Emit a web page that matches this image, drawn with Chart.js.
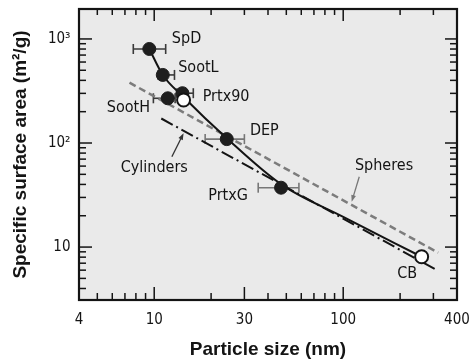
<!DOCTYPE html>
<html><head><meta charset="utf-8">
<script src="https://cdn.jsdelivr.net/npm/chart.js@4.4.1/dist/chart.umd.min.js"></script>
<style>html,body{margin:0;padding:0;background:#fff}#wrap{width:474px;height:363px;position:relative}</style>
</head><body><div id="wrap"><canvas id="c"></canvas></div>
<script>
// ---- data ----
const sampleNames = ['SpD', 'SootL', 'SootH', 'Prtx90', 'DEP', 'PrtxG'];
const sampleSize  = [9.42, 11.1, 11.8, 14.1, 24.2, 46.9];      // nm
const sampleArea  = [801, 451, 269, 301, 109, 37.2];            // m2/g
const sizeLow     = [7.75, 10.5, 9.9, 13.2, 18.6, 35.5];
const sizeHigh    = [11.5, 12.8, 12.9, 16.1, 30.0, 58.3];
const openNames   = ['Prtx90', 'CB'];
const openSize    = [14.3, 260];
const openArea    = [259, 8.07];
const fitSize     = [9.42, 11.1, 14.2, 24.2, 47, 100, 260];
const fitArea     = [801, 451, 280, 111, 40, 19.5, 8.07];
const sphereSize  = [7.4, 318];
const sphereArea  = [380, 8.84];
const cylSize     = [10.9, 306];
const cylArea     = [172, 6.14];
const labelText   = ['SpD', 'SootL', 'Prtx90', 'SootH', 'DEP', 'Cylinders', 'Spheres', 'PrtxG', 'CB'];
const labelSize   = [12.4, 13.4, 18.05, 9.5, 32.1, 6.65, 115.4, 31.3, 193];
const labelArea   = [993, 523, 279, 220, 131, 57.2, 60.1, 30.9, 5.5];
const labelAlign  = ['left', 'left', 'left', 'right', 'left', 'left', 'left', 'right', 'left'];
const arrowNames  = ['Cylinders', 'Spheres'];
const arrowFromX  = [12.4, 121.6];
const arrowFromY  = [73.8, 47.4];
const arrowToX    = [14.3, 110.9];
const arrowToY    = [124, 27.3];
const xTickValues = [4, 10, 30, 100, 400];
const xTickLabels = ['4', '10', '30', '100', '400'];
const yTickValues = [10, 100, 1000];
const yTickLabels = ['10', '10\u00B2', '10\u00B3'];
const xMinorTicks = [5, 6, 7, 8, 9, 20, 40, 50, 60, 70, 80, 90, 200, 300];
const xTopMajor   = [10, 100];
const xTopMinor   = [5, 6, 7, 8, 9, 20, 30, 40, 50, 60, 70, 80, 90, 200, 300];
const yMinorTicks = [4, 5, 6, 7, 8, 9, 20, 30, 40, 50, 60, 70, 80, 90, 200, 300, 400, 500, 600, 700, 800, 900];

// ---- styles ----
const FONT = '"DejaVu Sans Condensed","DejaVu Sans",sans-serif';
const TITLE_FONT = '"Liberation Sans",Arial,sans-serif';
const errColors = ['#3a3a3a', '#3a3a3a', '#3a3a3a', '#3a3a3a', '#777', '#777'];
const arrowColors = ['#333', '#777'];
const INK = '#141414';

const pts = (xs, ys) => xs.map((v, i) => ({x: v, y: ys[i]}));

function seg(ctx, x0, y0, x1, y1) {
  ctx.beginPath();
  ctx.moveTo(x0, y0);
  ctx.lineTo(x1, y1);
  ctx.stroke();
}
function noPad(s) { s.paddingTop = 0; s.paddingBottom = 0; s.paddingLeft = 0; s.paddingRight = 0; }

const plotPlugin = {
  id: 'plotDecor',
  beforeDraw(chart) {
    const {ctx, chartArea: a} = chart;
    ctx.save();
    ctx.fillStyle = '#eaeaea';
    ctx.fillRect(a.left, a.top, a.right - a.left, a.bottom - a.top);
    ctx.restore();
  },
  beforeDatasetsDraw(chart) {
    const {ctx} = chart;
    const xs = chart.scales.x, ys = chart.scales.y;
    ctx.save();
    ctx.setLineDash([]);
    ctx.lineWidth = 1.6;
    for (let i = 0; i < sampleSize.length; i++) {
      const yy = ys.getPixelForValue(sampleArea[i]);
      const x0 = xs.getPixelForValue(sizeLow[i]);
      const x1 = xs.getPixelForValue(sizeHigh[i]);
      ctx.strokeStyle = errColors[i];
      seg(ctx, x0, yy, x1, yy);
      seg(ctx, x0, yy - 5, x0, yy + 5);
      seg(ctx, x1, yy - 5, x1, yy + 5);
    }
    ctx.restore();
  },
  afterDatasetsDraw(chart) {
    const {ctx} = chart;
    const a = chart.chartArea;
    const xs = chart.scales.x, ys = chart.scales.y;
    ctx.save();
    ctx.setLineDash([]);
    // arrows
    for (let i = 0; i < arrowNames.length; i++) {
      const x0 = xs.getPixelForValue(arrowFromX[i]), y0 = ys.getPixelForValue(arrowFromY[i]);
      const x1 = xs.getPixelForValue(arrowToX[i]), y1 = ys.getPixelForValue(arrowToY[i]);
      const ang = Math.atan2(y1 - y0, x1 - x0);
      const hl = 7;
      ctx.strokeStyle = arrowColors[i]; ctx.fillStyle = arrowColors[i]; ctx.lineWidth = 1.3;
      seg(ctx, x0, y0, x1 - Math.cos(ang) * hl * 0.8, y1 - Math.sin(ang) * hl * 0.8);
      ctx.beginPath();
      ctx.moveTo(x1, y1);
      ctx.lineTo(x1 - hl * Math.cos(ang - 0.35), y1 - hl * Math.sin(ang - 0.35));
      ctx.lineTo(x1 - hl * Math.cos(ang + 0.35), y1 - hl * Math.sin(ang + 0.35));
      ctx.closePath(); ctx.fill();
    }
    // labels
    ctx.fillStyle = INK;
    ctx.font = '16px ' + FONT;
    ctx.textBaseline = 'middle';
    for (let i = 0; i < labelText.length; i++) {
      ctx.textAlign = labelAlign[i];
      ctx.fillText(labelText[i], xs.getPixelForValue(labelSize[i]), ys.getPixelForValue(labelArea[i]));
    }
    // inward ticks on all four sides
    ctx.strokeStyle = INK;
    ctx.lineWidth = 1.5;
    for (const v of xMinorTicks) { const p = xs.getPixelForValue(v); seg(ctx, p, a.bottom, p, a.bottom - 7); }
    for (const v of xTickValues) { const p = xs.getPixelForValue(v); seg(ctx, p, a.bottom, p, a.bottom - 13); }
    for (const v of xTopMinor) { const p = xs.getPixelForValue(v); seg(ctx, p, a.top, p, a.top + 6); }
    for (const v of xTopMajor) { const p = xs.getPixelForValue(v); seg(ctx, p, a.top, p, a.top + 12); }
    for (const v of yMinorTicks) {
      const p = ys.getPixelForValue(v);
      seg(ctx, a.left, p, a.left + 7, p);
      seg(ctx, a.right, p, a.right - 7, p);
    }
    for (const v of yTickValues) {
      const p = ys.getPixelForValue(v);
      seg(ctx, a.left, p, a.left + 13, p);
      seg(ctx, a.right, p, a.right - 12, p);
    }
    // frame
    ctx.lineWidth = 2.2;
    ctx.strokeRect(a.left, a.top, a.right - a.left, a.bottom - a.top);
    ctx.restore();
  }
};

new Chart(document.getElementById('c'), {
  type: 'scatter',
  data: {
    datasets: [
      {label: 'open', data: pts(openSize, openArea), pointRadius: 6.5, pointBackgroundColor: '#fff',
       pointBorderColor: INK, pointBorderWidth: 2, showLine: false},
      {label: 'samples', data: pts(sampleSize, sampleArea), pointRadius: 6.5, pointBackgroundColor: '#1e1e1e',
       pointBorderColor: '#1e1e1e', pointBorderWidth: 1, showLine: false},
      {label: 'fit', data: pts(fitSize, fitArea), showLine: true, borderColor: INK, borderWidth: 2,
       cubicInterpolationMode: 'monotone', pointRadius: 0},
      {label: 'Cylinders', data: pts(cylSize, cylArea), showLine: true, borderColor: INK, borderWidth: 2,
       borderDash: [13, 4, 2, 4], pointRadius: 0},
      {label: 'Spheres', data: pts(sphereSize, sphereArea), showLine: true, borderColor: '#7c7c7c', borderWidth: 2.5,
       borderDash: [7, 4], pointRadius: 0}
    ]
  },
  options: {
    responsive: true, maintainAspectRatio: false, animation: false,
    layout: {padding: {top: 9, right: 17, left: 0, bottom: 0}},
    plugins: {legend: {display: false}, tooltip: {enabled: false}},
    scales: {
      x: {
        type: 'logarithmic', min: 4, max: 400, position: 'bottom',
        grid: {display: false, drawTicks: false}, border: {display: false},
        afterBuildTicks: s => { s.ticks = xTickValues.map(v => ({value: v})); },
        afterFit: s => { s.height = 63; noPad(s); },
        ticks: {autoSkip: false, maxRotation: 0, padding: 11, color: INK,
                font: {family: FONT, size: 15},
                callback: (v) => { const i = xTickValues.indexOf(v); return i >= 0 ? xTickLabels[i] : ''; }},
        title: {display: true, text: 'Particle size (nm)', color: INK,
                font: {family: TITLE_FONT, size: 19, weight: 'bold', lineHeight: 1}, padding: {top: 0, bottom: 3.8}}
      },
      y: {
        type: 'logarithmic', min: 3.1, max: 1940,
        grid: {display: false, drawTicks: false}, border: {display: false},
        afterBuildTicks: s => { s.ticks = yTickValues.map(v => ({value: v})); },
        afterFit: s => { s.width = 79; noPad(s); },
        ticks: {autoSkip: false, padding: 8.5, color: INK,
                font: {family: FONT, size: 15},
                callback: (v) => { const i = yTickValues.indexOf(v); return i >= 0 ? yTickLabels[i] : ''; }},
        title: {display: true, text: 'Specific surface area (m\u00B2/g)', color: INK,
                font: {family: TITLE_FONT, size: 19, weight: 'bold', lineHeight: 1}, padding: {top: 11.5, bottom: 0}}
      }
    }
  },
  plugins: [plotPlugin]
});
</script>
</body></html>
